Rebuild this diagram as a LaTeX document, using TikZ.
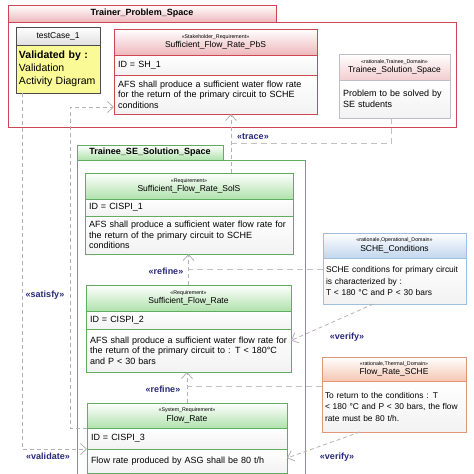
\documentclass[tikz,border=0pt]{standalone}
\usepackage{fontspec}
\setmainfont{Liberation Sans}
\usepackage{xcolor}
\usetikzlibrary{positioning,arrows.meta}

\definecolor{pbred}{RGB}{204,70,84}
\definecolor{pbpink}{RGB}{238,184,188}
\definecolor{ssgreen}{RGB}{96,172,96}
\definecolor{ssmint}{RGB}{176,226,172}
\definecolor{opblue}{RGB}{160,190,222}
\definecolor{opsky}{RGB}{194,214,238}
\definecolor{thorange}{RGB}{226,150,120}
\definecolor{thpeach}{RGB}{244,198,178}
\definecolor{tsgray}{RGB}{190,190,200}
\definecolor{tcyellow}{RGB}{250,250,150}
\definecolor{depgray}{RGB}{178,178,178}
\definecolor{stnavy}{RGB}{40,40,120}

\newcommand{\stereo}[1]{{\fontsize{5.3}{6}\selectfont «#1»}}

\begin{document}
\begin{tikzpicture}[x=1pt, y=-1pt,
    pkg/.style={draw=#1, line width=1pt, fill=white, inner sep=0pt, outer sep=0pt},
    tab/.style 2 args={draw=#1, line width=1pt, top color=white, bottom color=#2, inner sep=0pt, outer sep=0pt, font=\bfseries\fontsize{9}{10}\selectfont},
    head/.style 2 args={draw=#1, line width=1pt, top color=white, bottom color=#2, inner sep=0pt, outer sep=0pt, align=center, font=\fontsize{8.5}{9.5}\selectfont},
    row/.style={draw=#1, line width=1pt, top color=white, bottom color=black!5, inner xsep=4pt, inner ysep=0pt, outer sep=0pt, align=left, font=\fontsize{9}{10.5}\selectfont},
    note/.style={row=#1, font=\fontsize{8.4}{11.5}\selectfont},
    dep/.style={draw=depgray, line width=.8pt, dash pattern=on 4pt off 3pt, -{Straight Barb[length=6pt,width=11pt,line width=.8pt]}},
    anch/.style={draw=depgray!80, line width=.6pt, dash pattern=on 6pt off 4pt},
    lbl/.style={text=stnavy, inner sep=1pt, font=\bfseries\fontsize{9}{10}\selectfont}]
\useasboundingbox (0,0) rectangle (474,474);
\clip (0,0) rectangle (474,474);

% packages
\node[pkg=pbred, minimum width=448pt, minimum height=105pt, anchor=north west] (tpsb) at (8,22) {};
\node[tab={pbred}{pbpink}, minimum width=268pt, minimum height=17pt, anchor=south west] (tps) at (tpsb.north west) {Trainer\_Problem\_Space};
\node[pkg=ssgreen, minimum width=228pt, minimum height=330pt, anchor=north west] (sssb) at (77,160) {};
\node[tab={ssgreen}{ssmint}, minimum width=146pt, minimum height=15pt, anchor=south west] (sss) at (sssb.north west) {Trainee\_SE\_Solution\_Space};

% test case
\node[head={black!70}{black!12}, minimum width=84pt, minimum height=18pt, anchor=north west, font=\fontsize{8.5}{9.5}\selectfont] (tch) at (16,27) {testCase\_1};
\node[draw=black!70, line width=1pt, fill=tcyellow, text width=78pt, inner xsep=3pt, inner ysep=0pt, outer sep=0pt, minimum height=48pt, align=left, font=\fontsize{10.5}{13}\selectfont, below=0pt of tch] (tcb) {\textbf{Validated by :}\\Validation\\Activity Diagram};

% Sufficient_Flow_Rate_PbS
\node[head={pbred}{pbpink}, minimum width=203pt, minimum height=26pt, anchor=north west] (pbsh) at (114,29) {\stereo{Stakeholder\_Requirement}\\Sufficient\_Flow\_Rate\_PbS};
\node[row=pbred, text width=195pt, minimum height=20pt, below=0pt of pbsh] (pbsid) {ID = SH\_1};
\node[row=pbred, text width=195pt, minimum height=39pt, below=0pt of pbsid] (pbsb) {AFS shall produce a sufficient water flow rate\\for the return of the primary circuit to SCHE\\conditions};

% Trainee_Solution_Space
\node[head={tsgray}{pbpink!70}, minimum width=111pt, minimum height=26pt, anchor=north west] (tssh) at (339,54) {\stereo{rationale,Trainee\_Domain}\\Trainee\_Solution\_Space};
\node[row=tsgray, text width=103pt, minimum height=38pt, below=0pt of tssh] (tssb) {Problem to be solved by\\SE students\\[4pt]};

% Sufficient_Flow_Rate_SolS
\node[head={ssgreen}{ssmint}, minimum width=208pt, minimum height=26pt, anchor=north west] (solh) at (85,173) {\stereo{Requirement}\\Sufficient\_Flow\_Rate\_SolS};
\node[row=ssgreen, text width=200pt, minimum height=17pt, below=0pt of solh] (solid) {ID = CISPI\_1};
\node[row=ssgreen, text width=200pt, minimum height=38pt, below=0pt of solid] (solb) {AFS shall produce a sufficient water flow rate for\\the return of the primary circuit to SCHE\\conditions};

% Sufficient_Flow_Rate
\node[head={ssgreen}{ssmint}, minimum width=205pt, minimum height=26pt, anchor=north west] (sfrh) at (86,285) {\stereo{Requirement}\\Sufficient\_Flow\_Rate};
\node[row=ssgreen, text width=197pt, minimum height=18pt, below=0pt of sfrh] (sfrid) {ID = CISPI\_2};
\node[row=ssgreen, text width=197pt, minimum height=43pt, below=0pt of sfrid] (sfrb) {AFS shall produce a sufficient water flow rate for\\the return of the primary circuit to : T < 180°C\\and P < 30 bars};

% Flow_Rate
\node[head={ssgreen}{ssmint}, minimum width=200pt, minimum height=25pt, anchor=north west] (frh) at (87,403) {\stereo{System\_Requirement}\\Flow\_Rate};
\node[row=ssgreen, text width=192pt, minimum height=21pt, below=0pt of frh] (frid) {ID = CISPI\_3};
\node[row=ssgreen, text width=192pt, minimum height=24pt, below=0pt of frid] (frb) {Flow rate produced by ASG shall be 80 t/h};

% SCHE_Conditions
\node[head={opblue}{opsky}, minimum width=143pt, minimum height=25pt, anchor=north west] (sch) at (323,233) {\stereo{rationale,Operational\_Domain}\\SCHE\_Conditions};
\node[note=opblue, text width=137pt, inner xsep=3pt, minimum height=46pt, below=0pt of sch] (scb) {SCHE conditions for primary circuit\\is characterized by :\\T < 180 °C and P < 30 bars};

% Flow_Rate_SCHE
\node[head={thorange}{thpeach}, minimum width=144pt, minimum height=24pt, anchor=north west] (fsh) at (322,357) {\stereo{rationale,Thermal\_Domain}\\Flow\_Rate\_SCHE};
\node[note=thorange, text width=138pt, inner xsep=3pt, minimum height=51pt, below=0pt of fsh] (fsb) {To return to the conditions : T\\< 180 °C and P < 30 bars, the flow\\rate must be 80 t/h.\\[3pt]};

% relations
\coordinate (trm) at (231,143);
\draw[dep] (frh.south west) -- ++(-17,0) |- ([yshift=7pt]pbsb.south west);
\draw[dep] ([xshift=6pt]tcb.south west) |- (frid.south west);
\draw[dep] ([xshift=42pt]solh.north) -- ([xshift=42pt]solh.north |- pbsb.south);
\draw[anch] ([xshift=-3pt]tssb.south) |- (trm);
\draw[dep] (sfrh.north) -- (sfrh.north |- solb.south);
\draw[anch] ([yshift=12pt]scb.west) -- ([yshift=12pt]scb.west -| sfrh.north);
\draw[dep] (frh.north) -- (frh.north |- sfrb.south);
\draw[anch] ([yshift=-5pt]fsh.south west) -- ([yshift=-5pt]fsh.south west -| frh.north);
\draw[dep] ([xshift=-21pt]scb.south) -- ([yshift=10pt]sfrb.east);
\draw[dep] ([xshift=-34pt]fsb.south) -- ([yshift=3pt]frb.east);

% labels
\node[lbl] (ltrace) at (253,137) {«trace»};
\node[lbl] (lref1) at (166,271) {«refine»};
\node[lbl] (lsat) at (45,295) {«satisfy»};
\node[lbl] (lver1) at (347,337) {«verify»};
\node[lbl] (lref2) at (163,389) {«refine»};
\node[lbl] (lver2) at (337,457) {«verify»};
\node[lbl] (lval) at (48,456) {«validate»};
\end{tikzpicture}
\end{document}
